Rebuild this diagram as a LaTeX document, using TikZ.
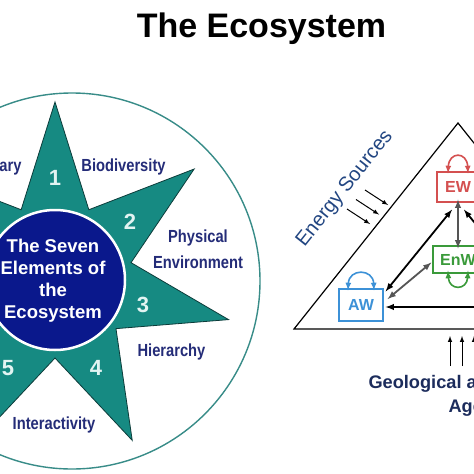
\documentclass[tikz,border=0pt]{standalone}
\usepackage{fontspec}
\setmainfont{Liberation Sans}
\newfontfamily\narrowsans[FakeStretch=0.84]{Liberation Sans}
\usetikzlibrary{arrows,calc,positioning}
\definecolor{starteal}{RGB}{22,138,130}
\definecolor{stardark}{RGB}{12,60,58}
\definecolor{ringteal}{RGB}{56,140,136}
\definecolor{corenavy}{RGB}{10,24,140}
\definecolor{labelnavy}{RGB}{36,44,120}
\definecolor{numpale}{RGB}{226,244,242}
\definecolor{srcblue}{RGB}{34,70,130}
\definecolor{geonavy}{RGB}{28,44,92}
\definecolor{ewred}{RGB}{212,80,80}
\definecolor{enwgreen}{RGB}{58,154,58}
\definecolor{awblue}{RGB}{60,145,215}
\definecolor{linkgray}{RGB}{85,85,85}
\tikzset{
  element/.style={text=labelnavy, font=\narrowsans\bfseries\fontsize{17.5}{19}\selectfont, anchor=base},
  number/.style={text=numpale, font=\bfseries\fontsize{22}{24}\selectfont},
  world/.style={draw, line width=1.3pt, fill=white, inner sep=0pt, font=\bfseries\fontsize{16}{18}\selectfont},
  link/.style={<->, >=latex, line width=1.8pt},
  loop/.style={<->, >=latex, line width=1.6pt},
}
\begin{document}
\begin{tikzpicture}[x=1pt,y=-1pt]
\fill[white] (0,0) rectangle (474,474);
\useasboundingbox (0,0) rectangle (474,474);
\node[font=\bfseries\fontsize{34}{40}\selectfont, anchor=base] (title) at (261.5,37) {The Ecosystem};
% seven elements
\draw[ringteal, line width=1.4pt] (72,281) circle[radius=188];
\filldraw[fill=starteal, draw=stardark, line width=0.8pt]
  (55,102) \foreach \k in {0,...,6} {
    -- ({55+78*cos(-90+(\k+0.5)*360/7)},{280+78*sin(-90+(\k+0.5)*360/7)})
    -- ({55+178*cos(-90+(\k+1)*360/7)},{280+178*sin(-90+(\k+1)*360/7)}) } -- cycle;
\filldraw[fill=corenavy, draw=white, line width=2.5pt] (55,280) circle[radius=70];
\node[text=white, align=center, inner sep=0pt, font=\bfseries\fontsize{18.5}{22.3}\selectfont] (core) at (53,280.7) {The Seven\\Elements of\\the\\Ecosystem};
\node[number] (n1) at (55,178) {1};
\node[number] (n2) at (130,222) {2};
\node[number] (n3) at (143,305) {3};
\node[number] (n4) at (96,368) {4};
\node[number] (n5) at (8,368) {5};
\node[element, anchor=base east] (evo) at (25,171) {Evolutionary};
\node[element] (bio) at (123.5,171) {Biodiversity};
\node[element] (phys) at (198,242.5) {Physical};
\node[element] (env) at (198,268) {Environment};
\node[element] (hier) at (171.5,356) {Hierarchy};
\node[element] (inter) at (54,429) {Interactivity};
% triangle of worlds
\draw[line width=1.2pt] (294,329) -- (458,123) -- (622,329) -- cycle;
\node[text=srcblue, rotate=51.5, font=\fontsize{20}{22}\selectfont] (src) at (345,189) {Energy Sources};
\foreach \s in {0,1,2}
  \draw[->, >=latex, line width=1pt] ({365-9*\s},{190+9.5*\s}) -- ++(23,15);
\foreach \xx in {450,462,474,486}
  \draw[->, >=latex, line width=1pt] (\xx,366) -- (\xx,336);
\node[text=geonavy, anchor=base west, font=\bfseries\fontsize{18.2}{20}\selectfont] (geo) at (365,388) {Geological and};
\node[text=geonavy, anchor=base west, font=\bfseries\fontsize{18.2}{20}\selectfont] (agents) at (445,412) {Agents};
\node[world, draw=ewred, text=ewred, minimum width=42, minimum height=30] (ew) at (458,187) {EW};
\node[world, draw=enwgreen, text=enwgreen, minimum width=50, minimum height=27] (enw) at (458,259.5) {EnW};
\node[world, draw=awblue, text=awblue, minimum width=44, minimum height=32] (aw) at (361,305) {AW};
\coordinate (rwn) at (531,292);
\coordinate (rwe) at (540,307);
\draw[loop, ewred] ([xshift=-10,yshift=-2]ew.north) .. controls ++(1,-22) and ++(-1,-22) .. ([xshift=10,yshift=-2]ew.north);
\draw[loop, enwgreen] ([xshift=-10,yshift=3]enw.south) .. controls ++(1,20) and ++(-1,20) .. ([xshift=10,yshift=3]enw.south);
\draw[loop, awblue] ([xshift=-13,yshift=-2]aw.north) .. controls ++(1,-22) and ++(-1,-22) .. ([xshift=13,yshift=-2]aw.north);
\draw[link] ([shift={(2,3)}]aw.north east) -- ([shift={(-6,7)}]ew.south);
\draw[link, linkgray] ([yshift=3]ew.south) -- ([yshift=-3]enw.north);
\draw[link, linkgray] ([shift={(4,-6)}]aw.east) -- ([shift={(-1,3)}]enw.west);
\draw[link] (rwe) -- ([shift={(2,2)}]aw.east);
\draw[link] (rwn) -- ([shift={(6,7)}]ew.south);
\end{tikzpicture}
\end{document}
